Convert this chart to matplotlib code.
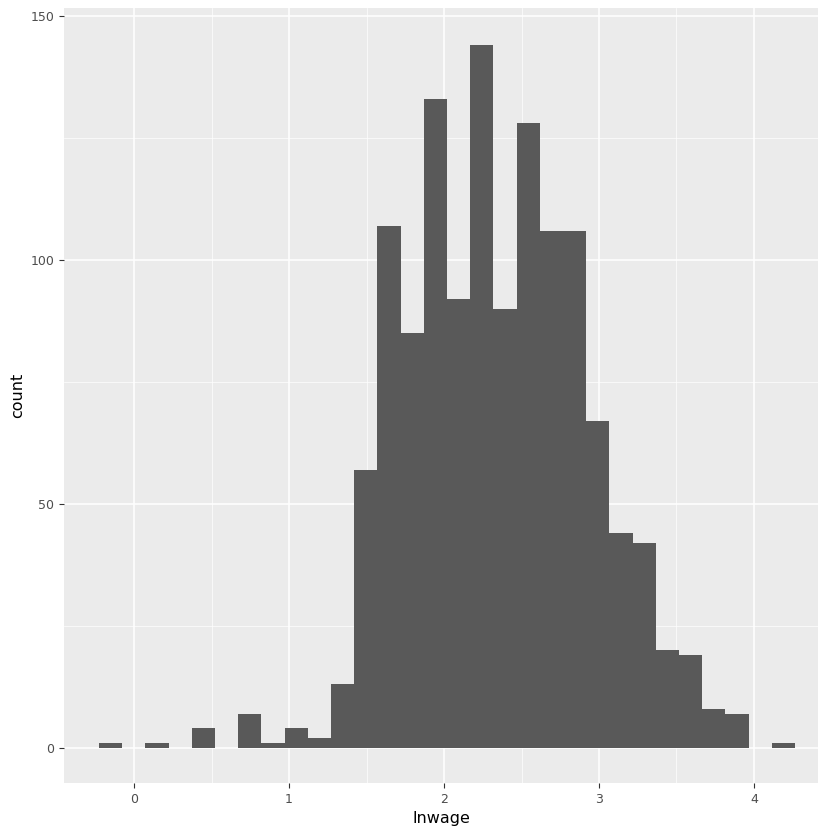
import numpy as np
import matplotlib
matplotlib.use("Agg")
import matplotlib.pyplot as plt
from matplotlib.ticker import MultipleLocator

counts = [1, 0, 1, 0, 4, 0, 7, 1, 4, 2, 13, 57, 107, 85, 133, 92, 144, 90, 128, 106,
          106, 67, 44, 42, 20, 19, 8, 7, 0, 1]
x_start, x_end = -0.226, 4.265
edges = np.linspace(x_start, x_end, len(counts) + 1)
widths = np.diff(edges)

fig = plt.figure(figsize=(8.4, 8.4), dpi=100)
ax = fig.add_axes([64/840, 57/840, (818-64)/840, (783-8)/840])
ax.set_facecolor("#EBEBEB")
ax.bar(edges[:-1], counts, width=widths, align="edge", color="#595959", zorder=3, linewidth=0)
ax.set_xlim(-0.452, 4.413)
ax.set_ylim(-7.2, 151.6)
ax.xaxis.set_major_locator(MultipleLocator(1))
ax.xaxis.set_minor_locator(MultipleLocator(0.5))
ax.yaxis.set_major_locator(MultipleLocator(50))
ax.yaxis.set_minor_locator(MultipleLocator(25))
ax.grid(which="major", color="white", linewidth=1.1, zorder=0)
ax.grid(which="minor", color="white", linewidth=0.5, zorder=0)
ax.set_axisbelow(True)
for s in ax.spines.values():
    s.set_visible(False)
ax.tick_params(which="minor", length=0)
ax.tick_params(which="major", length=3.5, color="#333333", labelcolor="#4D4D4D", labelsize=9)
ax.set_xlabel("lnwage", fontsize=11.5, color="black")
ax.set_ylabel("count", fontsize=11.5, color="black")
fig.savefig("out.png", dpi=100)
